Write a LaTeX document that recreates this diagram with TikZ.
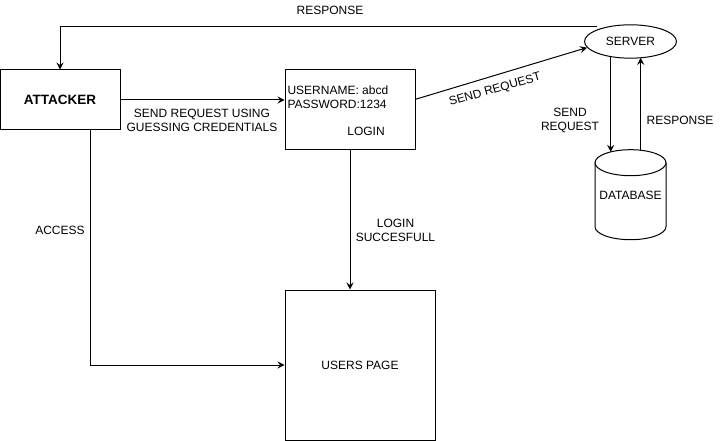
\documentclass[tikz,border=0pt]{standalone}
\usepackage{fontspec}
\setmainfont{Liberation Sans}
\usetikzlibrary{arrows.meta,shapes.geometric}
\begin{document}
\begin{tikzpicture}[x=1pt,y=-1pt, line width=1pt,
  box/.style={draw, rectangle, inner sep=0pt, font=\fontsize{12}{14}\selectfont},
  lbl/.style={font=\fontsize{12}{14}\selectfont, inner sep=0pt, align=center},
  arr/.style={-{Stealth[length=7pt,width=7pt,inset=2.5pt]}}]
\useasboundingbox (0,0) rectangle (721,441);
% nodes
\node[box, minimum width=120pt, minimum height=60pt, font=\fontsize{13.5}{16}\selectfont\bfseries] (attacker) at (60,100) {ATTACKER};
\node[box, minimum width=130pt, minimum height=80pt] (login) at (350,110) {};
\node[lbl, anchor=west, align=left] (cred) at (287,97) {USERNAME: abcd\\PASSWORD:1234};
\node[lbl] (logintxt) at (366,131.7) {LOGIN};
\node[box, minimum width=150pt, minimum height=150pt] (users) at (360,365) {USERS PAGE};
\node[draw, ellipse, minimum width=92pt, minimum height=33.4pt, inner sep=0pt, font=\fontsize{12}{14}\selectfont] (server) at (630.5,41.5) {SERVER};
\node[lbl] (db) at (630.5,195) {DATABASE};
% database cylinder
\draw (630.5,162.7) ellipse [x radius=35.5, y radius=13];
\draw (595,162.7) -- (595,226.7) arc[start angle=180, end angle=0, x radius=35.5, y radius=13] -- (666,162.7);
% coordinates on borders
\coordinate (srvout) at (597,26.7);
\coordinate (srvb1) at (610.7,56.6);
\coordinate (srvb2) at (640.7,57.8);
\coordinate (dbin) at (610.7,151.9);
\coordinate (dbout) at (640.7,150.3);
% connectors
\draw[arr] (srvout) -| (attacker.north);
\node[lbl] (lresp1) at (330,10.7) {RESPONSE};
\draw[arr] (attacker.east) -- (attacker.east -| login.west);
\node[lbl] (lguess) at (202,120.5) {SEND REQUEST USING\\GUESSING CREDENTIALS};
\draw[arr] ([yshift=10.7pt]login.east) -- (server.188);
\node[lbl, rotate=16] (lsend) at (495,90) {SEND REQUEST};
\draw[arr] (srvb1) -- (dbin);
\draw[arr] (dbout) -- (srvb2);
\node[lbl] (lsend2) at (570,120.5) {SEND\\REQUEST};
\node[lbl] (lresp2) at (680,120) {RESPONSE};
\draw[arr] ([xshift=30.3pt]attacker.south) |- (users.west);
\node[lbl] (lacc) at (60,230.7) {ACCESS};
\draw[arr] (login.south) -- (users.north -| login.south);
\node[lbl] (lsucc) at (395.5,230) {LOGIN\\SUCCESFULL};
\end{tikzpicture}
\end{document}
